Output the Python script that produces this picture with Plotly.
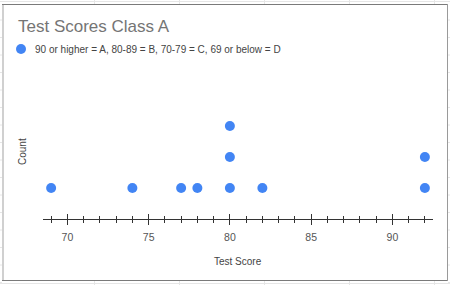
import plotly.graph_objects as go

# Data
scores = [69, 74, 77, 78, 80, 80, 80, 82, 92, 92]
title_text = "Test Scores Class A"
series_name = "90 or higher = A, 80-89 = B, 70-79 = C, 69 or below = D"
x_title = "Test Score"
y_title = "Count"
x_ticks = [70, 75, 80, 85, 90]

# stack identical scores into dot columns
seen = {}
levels = []
for s in scores:
    seen[s] = seen.get(s, 0) + 1
    levels.append(seen[s])

W, H = 450, 285
L, R, T, B = 43, 433, 64, 219
BLUE = "#4285F4"

def px(x):
    return (x - L) / (R - L)

def py(y):
    return (B - y) / (B - T)

fig = go.Figure()
fig.add_trace(go.Scatter(
    x=scores, y=levels, mode="markers", name=series_name,
    marker=dict(color=BLUE, size=10, line=dict(width=0)),
    showlegend=False, hoverinfo="x+y",
))
# invisible trace to create overlay axis (ticks above the line)
fig.add_trace(go.Scatter(x=[scores[0]], y=[levels[0]], xaxis="x2", mode="markers",
                         marker=dict(opacity=0), showlegend=False, hoverinfo="skip"))

fig.update_layout(
    width=W, height=H,
    margin=dict(l=L, r=W - R, t=T, b=H - B, pad=0),
    paper_bgcolor="white", plot_bgcolor="white",
    font=dict(family="Liberation Sans, Arial, sans-serif", color="#555555", size=10),
    xaxis=dict(
        range=[68.5, 92.5], tickvals=x_ticks, showgrid=False, zeroline=False,
        showline=True, linecolor="#333333", linewidth=1,
        ticks="outside", ticklen=5, tickwidth=1, tickcolor="#333333",
        minor=dict(ticks="outside", ticklen=3, tickwidth=1, tickcolor="#333333", dtick=1, showgrid=False),
        tickfont=dict(size=10.5, color="#555555"), ticklabelstandoff=3,
        fixedrange=True,
    ),
    xaxis2=dict(
        range=[68.5, 92.5], overlaying="x", side="bottom", anchor="y",
        tickvals=x_ticks, showticklabels=False, showgrid=False, zeroline=False, showline=False,
        ticks="inside", ticklen=5, tickwidth=1, tickcolor="#333333",
        minor=dict(ticks="inside", ticklen=3, tickwidth=1, tickcolor="#333333", dtick=1, showgrid=False),
        fixedrange=True,
    ),
    yaxis=dict(range=[0, 5], showgrid=False, zeroline=False, showline=False,
               showticklabels=False, ticks="", fixedrange=True),
    showlegend=False,
)

annotations = [
    dict(text=title_text, xref="paper", yref="paper", x=px(16), y=py(26),
         xanchor="left", yanchor="middle", showarrow=False,
         font=dict(size=17, color="#757575")),
    dict(text=series_name, xref="paper", yref="paper", x=px(33), y=py(49),
         xanchor="left", yanchor="middle", showarrow=False,
         font=dict(size=10, color="#444444")),
    dict(text=x_title, xref="paper", yref="paper", x=px(238), y=py(261),
         xanchor="center", yanchor="middle", showarrow=False,
         font=dict(size=10, color="#444444")),
    dict(text=y_title, xref="paper", yref="paper", x=px(22), y=py(152),
         xanchor="center", yanchor="middle", showarrow=False, textangle=-90,
         font=dict(size=10, color="#444444")),
]
fig.update_layout(annotations=annotations)

shapes = []
# legend symbol
shapes.append(dict(type="circle", xref="paper", yref="paper",
                   x0=px(16), x1=px(26), y0=py(44), y1=py(54),
                   fillcolor=BLUE, line=dict(width=0)))
# spreadsheet grid lines outside the chart box
grid = "#e6e6e6"
for gx in [94, 179, 264, 349, 434]:
    shapes.append(dict(type="line", xref="paper", yref="paper", x0=px(gx + 0.5), x1=px(gx + 0.5),
                       y0=py(0), y1=py(4), line=dict(color=grid, width=1)))
    shapes.append(dict(type="line", xref="paper", yref="paper", x0=px(gx + 0.5), x1=px(gx + 0.5),
                       y0=py(281), y1=py(285), line=dict(color=grid, width=1)))
gy = 20.0
while gy < 285:
    shapes.append(dict(type="line", xref="paper", yref="paper", x0=px(0), x1=px(2),
                       y0=py(gy), y1=py(gy), line=dict(color=grid, width=1)))
    shapes.append(dict(type="line", xref="paper", yref="paper", x0=px(448), x1=px(450),
                       y0=py(gy), y1=py(gy), line=dict(color=grid, width=1)))
    gy += 17.5
shapes.append(dict(type="line", xref="paper", yref="paper", x0=px(0), x1=px(450),
                   y0=py(1.5), y1=py(1.5), line=dict(color=grid, width=1)))
shapes.append(dict(type="line", xref="paper", yref="paper", x0=px(0), x1=px(450),
                   y0=py(283.5), y1=py(283.5), line=dict(color=grid, width=1)))
# chart box border
shapes.append(dict(type="line", xref="paper", yref="paper", x0=px(3), x1=px(3),
                   y0=py(4), y1=py(281), line=dict(color="#d0d0d0", width=2)))
shapes.append(dict(type="line", xref="paper", yref="paper", x0=px(2), x1=px(448),
                   y0=py(4.5), y1=py(4.5), line=dict(color="#7a7a7a", width=1)))
shapes.append(dict(type="line", xref="paper", yref="paper", x0=px(2), x1=px(448),
                   y0=py(280.5), y1=py(280.5), line=dict(color="#7a7a7a", width=1)))
shapes.append(dict(type="line", xref="paper", yref="paper", x0=px(447.5), x1=px(447.5),
                   y0=py(4), y1=py(281), line=dict(color="#9a9a9a", width=1)))
fig.update_layout(shapes=shapes)

fig.write_html("out.html", config={"displayModeBar": False})
